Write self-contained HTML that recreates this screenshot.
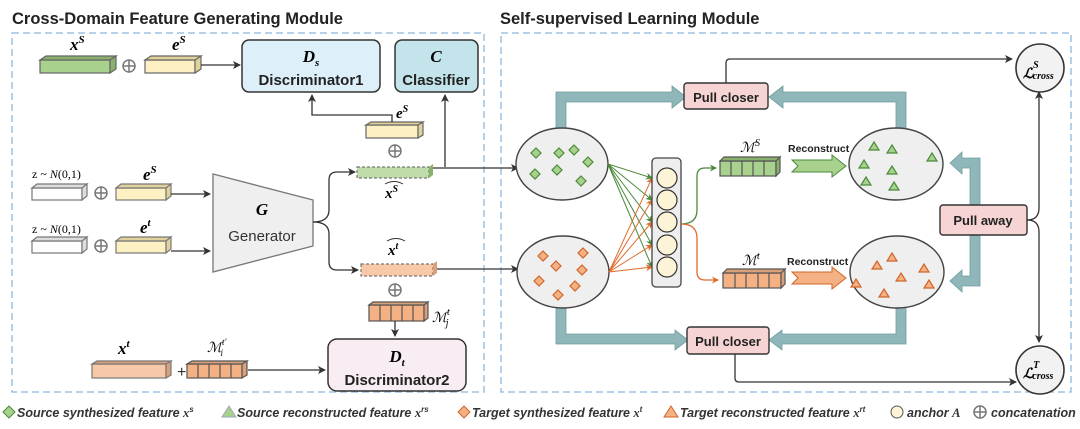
<!DOCTYPE html>
<html><head><meta charset="utf-8"><style>
html,body{margin:0;padding:0;background:#fff;}
svg{display:block;font-family:"Liberation Sans",sans-serif;}
.t{font-family:"Liberation Serif",serif;font-style:italic;font-weight:bold;}
</style></head><body>
<svg width="1080" height="429" viewBox="0 0 1080 429" xmlns="http://www.w3.org/2000/svg">
<defs>
<marker id="a" markerWidth="8" markerHeight="8" refX="7" refY="4" orient="auto" markerUnits="userSpaceOnUse"><path d="M0,0 L8,4 L0,8 L2,4z" fill="#333"/></marker>
<marker id="ag" markerWidth="7" markerHeight="7" refX="6" refY="3.5" orient="auto" markerUnits="userSpaceOnUse"><path d="M0,0 L7,3.5 L0,7 L2,3.5z" fill="#4a8a3a"/></marker>
<marker id="ao" markerWidth="7" markerHeight="7" refX="6" refY="3.5" orient="auto" markerUnits="userSpaceOnUse"><path d="M0,0 L7,3.5 L0,7 L2,3.5z" fill="#e06a2a"/></marker>
</defs>
<text x="12" y="24" font-size="16.5" font-weight="bold" fill="#222">Cross-Domain Feature Generating Module</text>
<text x="500" y="24" font-size="16.5" font-weight="bold" fill="#222">Self-supervised Learning Module</text>
<rect x="12" y="33" width="472" height="359" fill="none" stroke="#8bb8dd" stroke-width="1.3" stroke-dasharray="7,4"/>
<rect x="501" y="33" width="570" height="359" fill="none" stroke="#8bb8dd" stroke-width="1.3" stroke-dasharray="7,4"/>

<g stroke="#666" stroke-width="1.2">
<rect x="40" y="60" width="70" height="13" fill="#a9d18e"/><path d="M110,60 l6,-4 v13 l-6,4z M40,60 l6,-4 h70 l-6,4z" fill="#8ab06e"/>
<rect x="145" y="60" width="50" height="13" fill="#fdf1c3"/><path d="M195,60 l6,-4 v13 l-6,4z M145,60 l6,-4 h50 l-6,4z" fill="#e0d29a"/>
</g>
<text class="t" x="70" y="50" font-size="17">x<tspan font-size="11" dy="-7">S</tspan></text>
<text class="t" x="172" y="50" font-size="17">e<tspan font-size="11" dy="-7">S</tspan></text>
<g fill="none" stroke="#777" stroke-width="1.5"><circle cx="129" cy="66" r="6"/><path d="M123,66h12M129,60v12"/></g>
<path d="M201,65 H240" stroke="#333" stroke-width="1.3" marker-end="url(#a)"/>
<rect x="242" y="40" width="138" height="52" rx="7" fill="#ddf0fa" stroke="#333" stroke-width="1.5"/>
<text class="t" x="311" y="62" font-size="17" text-anchor="middle">D<tspan font-size="11" dy="4">s</tspan></text>
<text x="311" y="85" font-size="15" font-weight="bold" text-anchor="middle" fill="#222">Discriminator1</text>
<rect x="395" y="40" width="83" height="52" rx="7" fill="#c2e4ea" stroke="#333" stroke-width="1.5"/>
<text class="t" x="436" y="62" font-size="17" text-anchor="middle">C</text>
<text x="436" y="85" font-size="15" font-weight="bold" text-anchor="middle" fill="#222">Classifier</text>
<rect x="366" y="125" width="52" height="13" fill="#fdf1c3" stroke="#666" stroke-width="1.2"/><path d="M418,125 l5,-3 v13 l-5,3z M366,125 l5,-3 h52 l-5,3z" fill="#e0d29a" stroke="#666" stroke-width="1.2"/>
<text class="t" x="396" y="118" font-size="15">e<tspan font-size="10" dy="-6">S</tspan></text>
<path d="M392,122 V115 H312 V95" fill="none" stroke="#333" stroke-width="1.3" marker-end="url(#a)"/>
<g fill="none" stroke="#777" stroke-width="1.5"><circle cx="395" cy="151" r="6"/><path d="M389,151h12M395,145v12"/></g>
<rect x="357" y="167" width="72" height="11" fill="#bfdcaa" stroke="#777" stroke-width="1.2" stroke-dasharray="3,2"/><path d="M429,167 l4,-3 v11 l-4,3z" fill="#8ab06e"/>
<text class="t" x="385" y="198" font-size="15">x<tspan font-size="10" dy="-6">S</tspan></text>
<path d="M385,184 q9,-5 18,0" fill="none" stroke="#333" stroke-width="1"/>
<path d="M445,167 V95" stroke="#333" stroke-width="1.3" marker-end="url(#a)"/>
<path d="M433,168 H518" stroke="#333" stroke-width="1.3" marker-end="url(#a)"/>
<text x="32" y="178" font-size="12" font-family="Liberation Serif">z ~ <tspan font-style="italic">N</tspan>(0,1)</text>
<text x="32" y="233" font-size="12" font-family="Liberation Serif">z ~ <tspan font-style="italic">N</tspan>(0,1)</text>
<g stroke="#777" stroke-width="1.2">
<rect x="32" y="188" width="50" height="12" fill="#fff"/><path d="M82,188 l5,-4 v12 l-5,4z M32,188 l5,-4 h50 l-5,4z" fill="#ddd"/>
<rect x="116" y="188" width="50" height="12" fill="#fdf1c3"/><path d="M166,188 l5,-4 v12 l-5,4z M116,188 l5,-4 h50 l-5,4z" fill="#e0d29a"/>
<rect x="32" y="241" width="50" height="12" fill="#fff"/><path d="M82,241 l5,-4 v12 l-5,4z M32,241 l5,-4 h50 l-5,4z" fill="#ddd"/>
<rect x="116" y="241" width="50" height="12" fill="#fdf1c3"/><path d="M166,241 l5,-4 v12 l-5,4z M116,241 l5,-4 h50 l-5,4z" fill="#e0d29a"/>
</g>
<g fill="none" stroke="#777" stroke-width="1.5"><circle cx="101" cy="193" r="6"/><path d="M95,193h12M101,187v12"/><circle cx="101" cy="246" r="6"/><path d="M95,246h12M101,240v12"/></g>
<text class="t" x="143" y="180" font-size="17">e<tspan font-size="11" dy="-7">S</tspan></text>
<text class="t" x="140" y="233" font-size="17">e<tspan font-size="11" dy="-7">t</tspan></text>
<path d="M171,194 H210" stroke="#333" stroke-width="1.3" marker-end="url(#a)"/>
<path d="M171,251 H210" stroke="#333" stroke-width="1.3" marker-end="url(#a)"/>
<path d="M213,174 L313,200 V246 L213,272z" fill="#efefef" stroke="#777" stroke-width="1.3"/>
<text class="t" x="262" y="215" font-size="17" text-anchor="middle">G</text>
<text x="262" y="241" font-size="15" text-anchor="middle" fill="#333">Generator</text>
<path d="M313,222 q16,0 16,-12 V180 q0,-8 8,-8 H355" fill="none" stroke="#333" stroke-width="1.3" marker-end="url(#a)"/>
<path d="M313,222 q16,0 16,12 V262 q0,8 8,8 H358" fill="none" stroke="#333" stroke-width="1.3" marker-end="url(#a)"/>
<rect x="361" y="264" width="72" height="12" fill="#f8c9a8" stroke="#777" stroke-width="1.2" stroke-dasharray="3,2"/><path d="M433,264 l4,-3 v12 l-4,3z" fill="#d9a07a"/>
<text class="t" x="388" y="255" font-size="15">x<tspan font-size="10" dy="-6">t</tspan></text>
<path d="M387,241 q9,-5 18,0" fill="none" stroke="#333" stroke-width="1"/>
<path d="M437,269 H518" stroke="#333" stroke-width="1.3" marker-end="url(#a)"/>
<g fill="none" stroke="#777" stroke-width="1.5"><circle cx="395" cy="290" r="6"/><path d="M389,290h12M395,284v12"/></g>
<g stroke="#555" stroke-width="1.2"><rect x="369" y="305" width="55" height="16" fill="#f4b183"/><path d="M380,305v16M391,305v16M402,305v16M413,305v16" /><path d="M424,305 l4,-3 v16 l-4,3z M369,305 l4,-3 h55 l-4,3z" fill="#d9a07a"/></g>
<text x="432" y="322" font-size="14" font-family="Liberation Serif" font-style="italic">ℳ<tspan font-size="10" dy="-7">t</tspan><tspan font-size="10" dx="-4" dy="11">j</tspan></text>
<path d="M395,321 V336" stroke="#333" stroke-width="1.3" marker-end="url(#a)"/>
<rect x="328" y="339" width="138" height="52" rx="9" fill="#f8edf2" stroke="#333" stroke-width="1.5"/>
<text class="t" x="397" y="362" font-size="17" text-anchor="middle">D<tspan font-size="11" dy="4">t</tspan></text>
<text x="397" y="385" font-size="15" font-weight="bold" text-anchor="middle" fill="#222">Discriminator2</text>
<g stroke="#777" stroke-width="1.2"><rect x="92" y="364" width="74" height="14" fill="#f8c9a8"/><path d="M166,364 l5,-3 v14 l-5,3z M92,364 l5,-3 h74 l-5,3z" fill="#d9a07a"/></g>
<text class="t" x="118" y="354" font-size="17">x<tspan font-size="11" dy="-7">t</tspan></text>
<text x="177" y="377" font-size="16" fill="#333">+</text>
<g stroke="#555" stroke-width="1.2"><rect x="187" y="364" width="55" height="14" fill="#f4b183"/><path d="M198,364v14M209,364v14M220,364v14M231,364v14"/><path d="M242,364 l5,-3 v14 l-5,3z M187,364 l5,-3 h55 l-5,3z" fill="#d9a07a"/></g>
<text x="207" y="352" font-size="14" font-family="Liberation Serif" font-style="italic">ℳ<tspan font-size="9" dy="-7">t′</tspan><tspan font-size="9" dx="-6" dy="11">i</tspan></text>
<path d="M248,370 H325" stroke="#333" stroke-width="1.3" marker-end="url(#a)"/>

<g fill="#8fb7b9" stroke="#6f9c9e" stroke-width="0.8">
<path d="M556,130 V92 H672 V86 L686,97 L672,108 V102 H566 V130z"/>
<path d="M906,130 V92 H783 V86 L769,97 L783,108 V102 H896 V130z"/>
<path d="M556,304 V344 H675 V350 L688,340 L675,330 V334 H566 V304z"/>
<path d="M906,304 V344 H782 V350 L769,340 L782,330 V334 H896 V304z"/>
<path d="M980,205 V158 H962 V152 L950,163 L962,174 V168 H970 V205z" />
<path d="M980,235 V286 H962 V292 L950,281 L962,270 V276 H970 V235z" />
</g>
<rect x="684" y="83" width="84" height="26" rx="3" fill="#f6d4d4" stroke="#333" stroke-width="1.4"/>
<text x="726" y="102" font-size="13" font-weight="bold" text-anchor="middle" fill="#222">Pull closer</text>
<rect x="687" y="327" width="82" height="27" rx="3" fill="#f6d4d4" stroke="#333" stroke-width="1.4"/>
<text x="728" y="346" font-size="13" font-weight="bold" text-anchor="middle" fill="#222">Pull closer</text>
<rect x="940" y="205" width="87" height="30" rx="3" fill="#f6d4d4" stroke="#333" stroke-width="1.4"/>
<text x="983" y="225" font-size="13" font-weight="bold" text-anchor="middle" fill="#222">Pull away</text>
<path d="M726,83 V63 q0,-4 4,-4 H1012" fill="none" stroke="#333" stroke-width="1.3" marker-end="url(#a)"/>
<path d="M735,354 V378 q0,4 4,4 H1016" fill="none" stroke="#333" stroke-width="1.3" marker-end="url(#a)"/>
<path d="M1027,220 q12,0 12,-12 V92" fill="none" stroke="#333" stroke-width="1.3" marker-end="url(#a)"/>
<path d="M1027,220 q12,0 12,12 V342" fill="none" stroke="#333" stroke-width="1.3" marker-end="url(#a)"/>
<circle cx="1040" cy="68" r="24" fill="#f2f2f2" stroke="#333" stroke-width="1.6"/>
<text class="t" x="1023" y="78" font-size="14">ℒ<tspan font-size="10" dy="-10">S</tspan><tspan font-size="10" dx="-6" dy="11">cross</tspan></text>
<circle cx="1040" cy="370" r="24" fill="#f2f2f2" stroke="#333" stroke-width="1.6"/>
<text class="t" x="1023" y="378" font-size="14">ℒ<tspan font-size="10" dy="-10">T</tspan><tspan font-size="10" dx="-6" dy="11">cross</tspan></text>
<g fill="#efefef" stroke="#444" stroke-width="1.4">
<ellipse cx="562" cy="164" rx="46" ry="36"/><ellipse cx="563" cy="272" rx="46" ry="36"/>
<ellipse cx="896" cy="164" rx="47" ry="36"/><ellipse cx="897" cy="272" rx="47" ry="36"/>
</g>
<g fill="#a9d18e" stroke="#4a8a3a" stroke-width="1.2">
<path d="M536,148l5,5l-5,5l-5,-5z M559,148l5,5l-5,5l-5,-5z M574,145l5,5l-5,5l-5,-5z M588,157l5,5l-5,5l-5,-5z M557,165l5,5l-5,5l-5,-5z M535,169l5,5l-5,5l-5,-5z M581,176l5,5l-5,5l-5,-5z"/>
</g>
<g fill="#f4b183" stroke="#d0652a" stroke-width="1.2">
<path d="M543,251l5,5l-5,5l-5,-5z M583,248l5,5l-5,5l-5,-5z M556,261l5,5l-5,5l-5,-5z M582,265l5,5l-5,5l-5,-5z M539,276l5,5l-5,5l-5,-5z M575,281l5,5l-5,5l-5,-5z M558,290l5,5l-5,5l-5,-5z"/>
</g>
<g fill="#a9d18e" stroke="#4a8a3a" stroke-width="1.2">
<path d="M874,142l5,8h-10z M892,145l5,8h-10z M932,153l5,8h-10z M864,160l5,8h-10z M892,166l5,8h-10z M866,177l5,8h-10z M894,182l5,8h-10z"/>
</g>
<g fill="#f4b183" stroke="#d0652a" stroke-width="1.2">
<path d="M892,253l5,8h-10z M877,261l5,8h-10z M924,264l5,8h-10z M901,273l5,8h-10z M856,279l5,8h-10z M929,280l5,8h-10z M884,289l5,8h-10z"/>
</g>
<g stroke="#4a8a3a" stroke-width="1" marker-end="url(#ag)">
<path d="M608,164L652,178"/><path d="M608,164L652,200"/><path d="M608,164L652,222"/><path d="M608,164L652,245"/><path d="M608,164L652,267"/>
</g>
<g stroke="#e06a2a" stroke-width="1" marker-end="url(#ao)">
<path d="M609,272L652,178"/><path d="M609,272L652,200"/><path d="M609,272L652,222"/><path d="M609,272L652,245"/><path d="M609,272L652,267"/>
</g>
<rect x="652" y="158" width="29" height="129" rx="4" fill="#eeeeee" stroke="#444" stroke-width="1.3"/>
<g fill="#fdf3d6" stroke="#333" stroke-width="1.2">
<circle cx="667" cy="178" r="10"/><circle cx="667" cy="200" r="10"/><circle cx="667" cy="222" r="10"/><circle cx="667" cy="245" r="10"/><circle cx="667" cy="267" r="10"/>
</g>
<path d="M681,224 q16,0 16,-14 V176 q0,-8 8,-8 H716" fill="none" stroke="#4a8a3a" stroke-width="1.3" marker-end="url(#ag)"/>
<path d="M681,224 q16,0 16,14 V272 q0,8 8,8 H718" fill="none" stroke="#e06a2a" stroke-width="1.3" marker-end="url(#ao)"/>
<g stroke="#555" stroke-width="1.2"><rect x="720" y="161" width="56" height="15" fill="#a9d18e"/><path d="M731,161v15M742,161v15M753,161v15M764,161v15"/><path d="M776,161 l4,-4 v15 l-4,4z M720,161 l4,-4 h56 l-4,4z" fill="#8ab06e"/></g>
<g stroke="#555" stroke-width="1.2"><rect x="723" y="273" width="58" height="15" fill="#f4b183"/><path d="M735,273v15M746,273v15M758,273v15M769,273v15"/><path d="M781,273 l4,-4 v15 l-4,4z M723,273 l4,-4 h58 l-4,4z" fill="#d9a07a"/></g>
<text x="740" y="152" font-size="14" font-family="Liberation Serif" font-style="italic">ℳ<tspan font-size="10" dy="-6">S</tspan></text>
<text x="742" y="265" font-size="14" font-family="Liberation Serif" font-style="italic">ℳ<tspan font-size="10" dy="-6">t</tspan></text>
<text x="788" y="152" font-size="10.5" font-weight="bold" fill="#222">Reconstruct</text>
<text x="787" y="265" font-size="10.5" font-weight="bold" fill="#222">Reconstruct</text>
<path d="M792,160 H832 V155 L846,166 L832,177 V172 H792 L798,166z" fill="#a9d18e" stroke="#4a8a3a" stroke-width="1"/>
<path d="M792,272 H832 V267 L846,278 L832,289 V284 H792 L798,278z" fill="#f4b183" stroke="#d0652a" stroke-width="1"/>

<g font-size="12.5" font-style="italic" font-weight="bold" fill="#333">
<path d="M9,406l6,6l-6,6l-6,-6z" fill="#a9d18e" stroke="#4a8a3a"/>
<text x="17" y="417">Source synthesized feature <tspan font-family="Liberation Serif">x</tspan><tspan font-size="8" dy="-5">s</tspan></text>
<path d="M229,406l7,11h-14z" fill="#a9d18e" stroke="#9ab"/>
<text x="237" y="417">Source reconstructed feature <tspan font-family="Liberation Serif">x</tspan><tspan font-size="8" dy="-5">rs</tspan></text>
<path d="M464,406l6,6l-6,6l-6,-6z" fill="#f4b183" stroke="#d0652a"/>
<text x="472" y="417">Target synthesized feature <tspan font-family="Liberation Serif">x</tspan><tspan font-size="8" dy="-5">t</tspan></text>
<path d="M671,406l7,11h-14z" fill="#f4b183" stroke="#d0652a"/>
<text x="680" y="417">Target reconstructed feature <tspan font-family="Liberation Serif">x</tspan><tspan font-size="8" dy="-5">rt</tspan></text>
<circle cx="897" cy="412" r="6" fill="#fdf3d6" stroke="#555"/>
<text x="907" y="417">anchor <tspan font-family="Liberation Serif">A</tspan></text>
<g fill="none" stroke="#777" stroke-width="1.5"><circle cx="980" cy="412" r="6"/><path d="M974,412h12M980,406v12"/></g>
<text x="991" y="417">concatenation</text>
</g>
</svg>
</body></html>
